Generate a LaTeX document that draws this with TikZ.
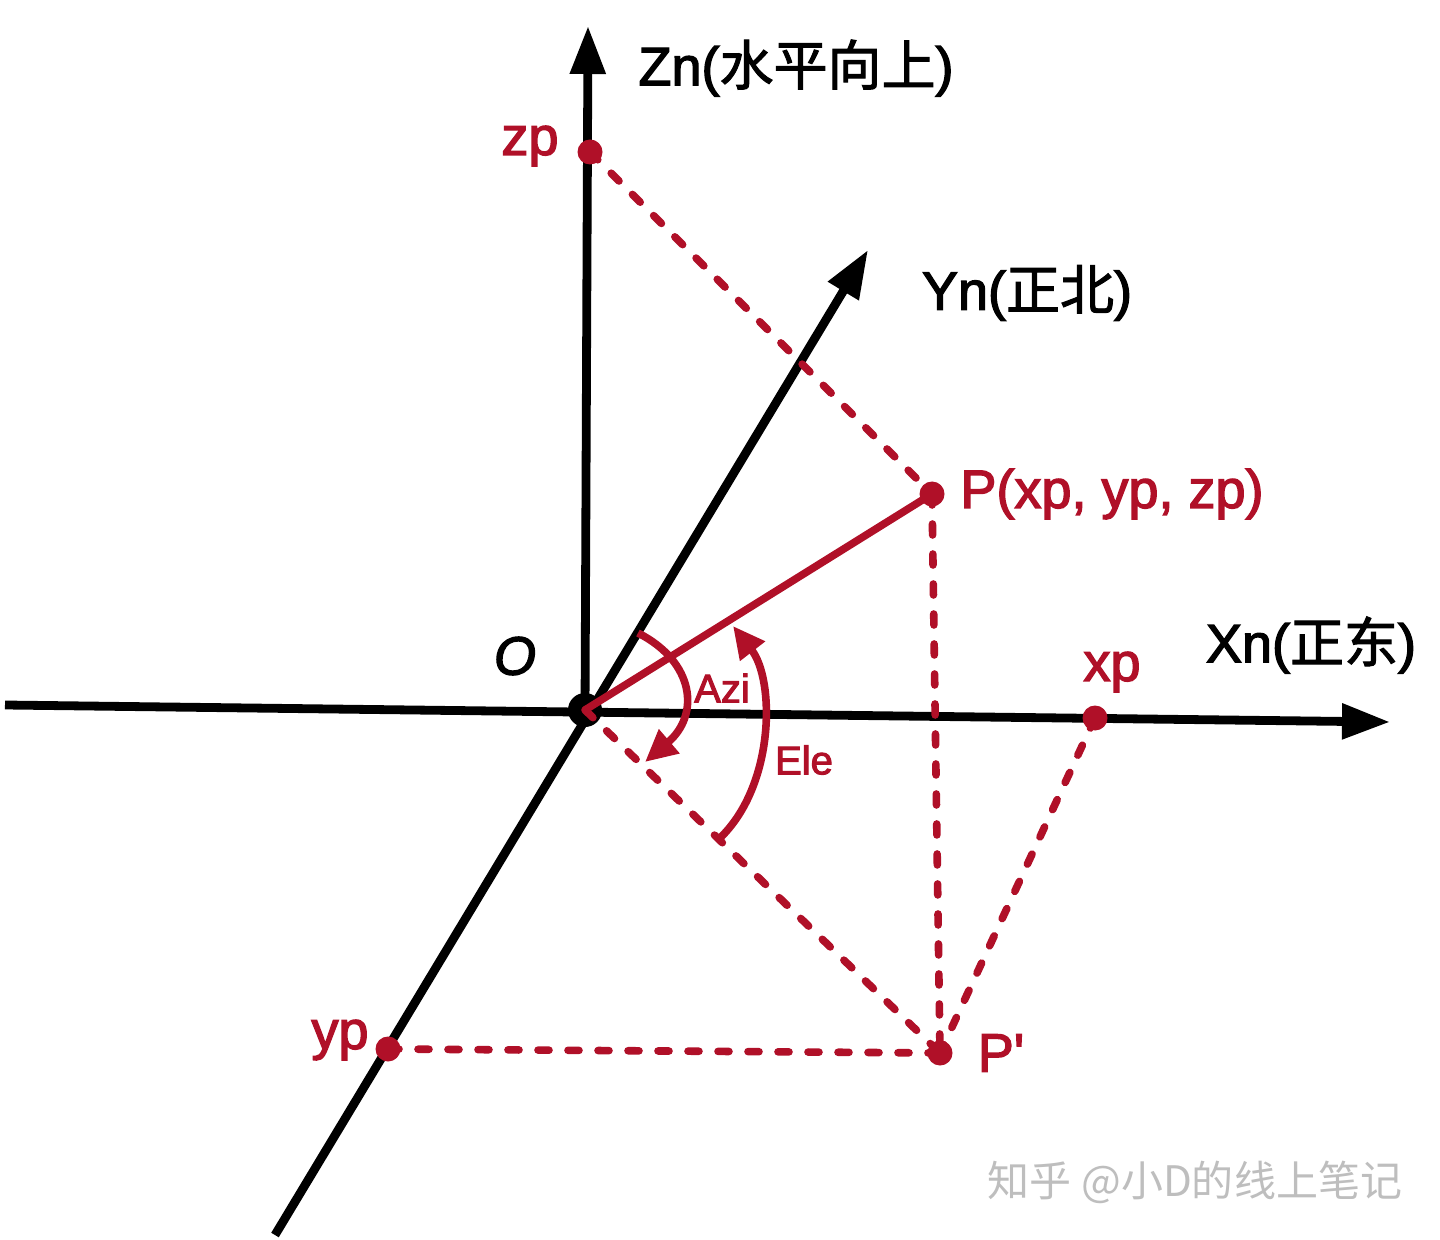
\documentclass[tikz,border=0pt]{standalone}
\usepackage{fontspec}
\setmainfont{Liberation Sans}[FakeBold=2.5]
\newfontfamily\cjk{Noto Sans CJK SC}[FakeBold=1.8]
\newfontfamily\cjkw{Noto Sans CJK SC}
\usetikzlibrary{arrows.meta}
\definecolor{dred}{RGB}{176,16,40}
\definecolor{wmgrey}{RGB}{190,190,190}
\begin{document}
\begin{tikzpicture}[x=0.5pt,y=-0.5pt,
  axis/.style={line width=4.4pt,black,-{Triangle[length=24pt,width=17pt]}},
  rline/.style={line width=3.8pt,dred},
  dsh/.style={line width=3.8pt,dred,line cap=round,dash pattern=on 5.5pt off 9.5pt},
  rdot/.style={circle,fill=dred,inner sep=0pt,minimum size=12.5pt},
  bdot/.style={circle,fill=black,inner sep=0pt,minimum size=17pt},
  arc/.style={line width=3.8pt,dred,-{Triangle[length=16pt,width=15pt]}},
  blab/.style={font=\fontsize{27}{30}\selectfont,black,inner sep=0pt},
  rlab/.style={font=\fontsize{27}{30}\selectfont,dred,inner sep=0pt},
  slab/.style={font=\fontsize{20}{24}\selectfont,dred,inner sep=0pt}]
\useasboundingbox (0,0) rectangle (1440,1240);
% axis end points
\coordinate (xs) at (5,705);
\coordinate (xe) at (1390,722);
\coordinate (zs) at (585,712);
\coordinate (ze) at (588,26);
\coordinate (ys) at (275,1235);
\coordinate (ye) at (868,250);
% axes
\draw[axis] (xs) -- (xe);
\draw[axis] (zs) -- (ze);
\draw[axis] (ys) -- (ye);
% points
\node[bdot] (O) at (585,710) {};
\node[rdot] (P) at (932,494) {};
\node[rdot] (Pp) at (940,1053) {};
\node[rdot] (zp) at (590,152) {};
\node[rdot] (xp) at (1095,718) {};
\node[rdot] (yp) at (388,1049) {};
% dashed projections
\draw[dsh] (zp.center) -- (P.center);
\draw[dsh] (P.center) -- (Pp.center);
\draw[dsh] (O.center) -- (Pp.center);
\draw[dsh] (yp.center) -- (Pp.center);
\draw[dsh] (xp.center) -- (Pp.center);
% vector OP
\draw[rline] (O.center) -- (P.center);
% angle arcs
\coordinate (azs) at (638,633);
\coordinate (aze) at (645,762);
\draw[arc] (azs) .. controls (695,662) and (700,715) .. (aze);
\coordinate (els) at (720,838);
\coordinate (ele) at (733,626);
\draw[arc] (els) .. controls (775,785) and (775,680) .. (ele);
% labels
\node[blab] (lz) at (796,68) {Zn({\cjk 水平向上})};
\node[blab] (ly) at (1027,293) {Yn({\cjk 正北})};
\node[blab] (lx) at (1311,645) {Xn({\cjk 正东})};
\node[blab,font=\fontsize{27}{30}\selectfont\itshape] (lO) at (515,656) {O};
\node[rlab] (lzp) at (530,146) {zp};
\node[rlab] (lP) at (1112,494) {P(xp, yp, zp)};
\node[rlab] (lxp) at (1112,672) {xp};
\node[rlab] (lyp) at (340,1040) {yp};
\node[rlab] (lPp) at (1001,1053) {P\textquotesingle};
\node[slab] (lazi) at (722,688) {Azi};
\node[slab] (lele) at (804,760) {Ele};
\node[font=\fontsize{21}{24}\selectfont\cjkw,wmgrey,inner sep=0pt] (wm) at (1195,1182) {知乎 @小D的线上笔记};
\end{tikzpicture}
\end{document}
